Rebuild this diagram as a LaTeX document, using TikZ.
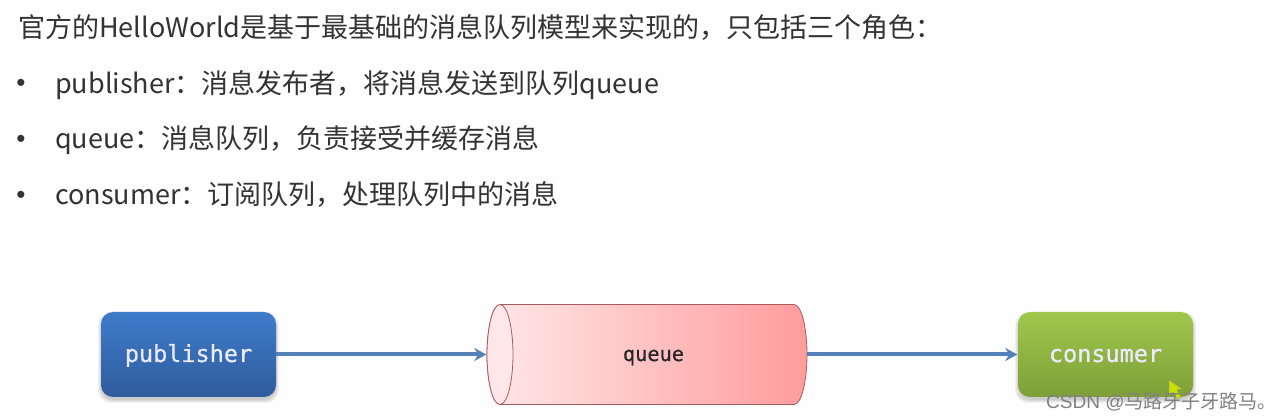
\documentclass[tikz,border=0pt]{standalone}
\usepackage{fontspec}
\setmainfont{Noto Sans CJK SC}
\newfontfamily\cjkui{Noto Sans CJK SC}
\newfontfamily\boxmono[FakeBold=0.6]{DejaVu Sans Mono}
\newfontfamily\marksans{Liberation Sans}
\newfontfamily\markcjk{Noto Sans CJK SC}
\usetikzlibrary{arrows.meta}
\definecolor{txt}{HTML}{333333}
\definecolor{arrowblue}{HTML}{5680B8}
\definecolor{cylline}{HTML}{A85A5E}
\definecolor{pubtop}{HTML}{3F7CCB}
\definecolor{pubbot}{HTML}{2F5C9C}
\definecolor{contop}{HTML}{A0C74C}
\definecolor{conbot}{HTML}{7E9F38}
\definecolor{qleft}{HTML}{FFE8E8}
\definecolor{qright}{HTML}{FF9C9C}
\definecolor{qcap}{HTML}{FFE6E8}
\definecolor{cursorc}{HTML}{C8E000}
\tikzset{
  x=1pt,y=-1pt,
  bodytext/.style={anchor=base west,inner sep=0pt,text=txt,font=\cjkui\fontsize{27}{31}\selectfont},
  bulletmark/.style={anchor=base,inner sep=0pt,text=txt,font=\marksans\fontsize{26}{30}\selectfont},
  rolebox/.style={rounded corners=12pt,minimum width=175pt,minimum height=85pt,inner sep=0pt,text=white!92!blue,font=\boxmono\fontsize{23.5}{26}\selectfont},
  link/.style={-{Stealth[length=12pt,width=13pt]},arrowblue,line width=4pt,shorten >=0.5pt},
  softshadow/.style={fill=black,fill opacity=0.05,rounded corners=13pt},
}
\begin{document}
\begin{tikzpicture}
\useasboundingbox (0,0) rectangle (1280,419);
\fill[white!99.5!black] (0,0) rectangle (1280,419);

\node[bodytext] (title) at (18,38) {官方的HelloWorld是基于最基础的消息队列模型来实现的，只包括三个角色：};
\node[bulletmark] (b1) at (21,92) {•};
\node[bulletmark] (b2) at (21,148) {•};
\node[bulletmark] (b3) at (21,204) {•};
\node[bodytext] (l1) at (55,94) {publisher：消息发布者，将消息发送到队列queue};
\node[bodytext] (l2) at (55,149) {queue：消息队列，负责接受并缓存消息};
\node[bodytext] (l3) at (55,205) {consumer：订阅队列，处理队列中的消息};

% shadows
\foreach \d in {0,1,2,3}{
  \fill[softshadow] (101-\d,315-\d) rectangle (276+\d,400+\d);
  \fill[softshadow] (1018-\d,315-\d) rectangle (1193+\d,400+\d);
}

\node[rolebox,top color=pubtop,bottom color=pubbot] (pub) at (188.5,354.5) {\raisebox{-7.5pt}[0pt][0pt]{publisher}};
\node[rolebox,top color=contop,bottom color=conbot] (con) at (1105.5,354.5) {\raisebox{-7.5pt}[0pt][0pt]{consumer}};

% cylinder
\shade[left color=qleft,right color=qright,draw=cylline,line width=0.8pt]
  (500,304.5) -- (794,304.5) .. controls (802,304.5) and (807,330) .. (807,354.5)
  .. controls (807,379) and (802,404.5) .. (794,404.5) -- (500,404.5)
  .. controls (492,404.5) and (487,379) .. (487,354.5)
  .. controls (487,330) and (492,304.5) .. (500,304.5) -- cycle;
\draw[cylline,line width=0.8pt,fill=qcap]
  (500,304.5) .. controls (508,304.5) and (513,330) .. (513,354.5)
  .. controls (513,379) and (508,404.5) .. (500,404.5)
  .. controls (492,404.5) and (487,379) .. (487,354.5)
  .. controls (487,330) and (492,304.5) .. (500,304.5) -- cycle;
\node[inner sep=0pt,minimum width=320pt,minimum height=101pt,text=black!85,font=\boxmono\fontsize{20.3}{24}\selectfont] (queue) at (647,354.5) {\hspace*{13pt}\raisebox{-6.5pt}[0pt][0pt]{queue}};

\draw[link] (pub.east) -- (queue.west);
\draw[link] (queue.east) -- (con.west);

% cursor
\fill[cursorc,draw=black!45,line width=0.3pt] (1169,380) -- (1169,395) -- (1173,392) -- (1177,399) -- (1181,397) -- (1177,390) -- (1182,389) -- cycle;

% watermark
\node[anchor=base west,inner sep=0pt,text=black!50,font=\markcjk\fontsize{19}{22}\selectfont] (mark) at (1046,409) {{\marksans CSDN @}马路牙子牙路马。};
\end{tikzpicture}
\end{document}
